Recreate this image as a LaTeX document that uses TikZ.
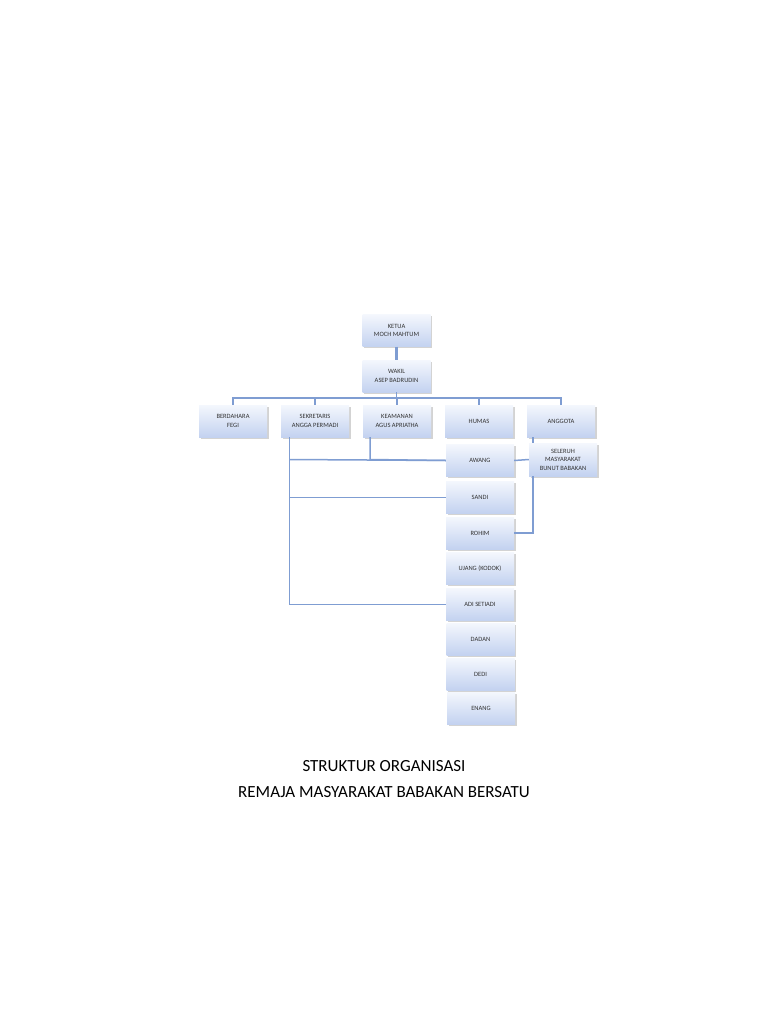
\documentclass[tikz,border=0pt]{standalone}
\usepackage{fontspec}
\setmainfont{Carlito}
\usetikzlibrary{shadows}
\definecolor{boxtop}{HTML}{F4F7FD}
\definecolor{boxbot}{HTML}{C3D2F0}
\definecolor{ln}{HTML}{7F9DD2}
\begin{document}
\begin{tikzpicture}[x=1pt,y=-1pt,
  box/.style={rectangle,minimum width=68pt,minimum height=32pt,inner sep=1pt,
    top color=boxtop,bottom color=boxbot,draw=none,
    drop shadow={shadow xshift=1.5pt,shadow yshift=-1.5pt,opacity=0.35},
    font=\fontsize{6.5}{8.5}\selectfont,align=center,text=black!80},
  conn/.style={draw=ln,line width=1.5pt}]
\useasboundingbox (0,0) rectangle (768,1024);
\node[box] (ketua) at (396.5,330.5) {KETUA\\MOCH MAHTUM};
\node[box] (wakil) at (396.5,376) {WAKIL\\ASEP BADRUDIN};
\node[box] (berd) at (233,421) {BERDAHARA\\FEGI};
\node[box] (sekr) at (315,421) {SEKRETARIS\\ANGGA PERMADI};
\node[box] (keam) at (397,421) {KEAMANAN\\AGUS APRIATHA};
\node[box] (humas) at (479,421) {HUMAS};
\node[box] (angg) at (561,421) {ANGGOTA};
\node[box] (awang) at (480,460.5) {AWANG};
\node[box] (sandi) at (480,497) {SANDI};
\node[box] (rohim) at (480,533) {ROHIM};
\node[box] (ujang) at (480,568.5) {UJANG (KODOK)};
\node[box] (adi) at (480,604.5) {ADI SETIADI};
\node[box] (dadan) at (480.5,639) {DADAN};
\node[box] (dedi) at (480.5,674) {DEDI};
\node[box] (enang) at (481,708) {ENANG};
\node[box,minimum width=68pt,minimum height=33pt] (sel) at (563,459.5) {SELERUH\\MASYARAKAT\\BUNUT BABAKAN};
\coordinate (bus) at (396.5,398);
\draw[conn,line width=2.5pt] (ketua.south) -- (wakil.north);
\draw[conn] (wakil.south) -- (bus);
\draw[conn] (233,405) -- (233,398) -- (561,398) -- (561,405);
\foreach \x in {315,397,479} \draw[conn] (\x,398) -- (\x,405);
\draw[conn,line width=1pt] (289,437) -- (289,604.5) -- (adi.west);
\draw[conn] (289,459.5) -- (awang.west);
\draw[conn,line width=1pt] (289,497) -- (sandi.west);
\draw[conn] (370,437) -- (370,459.5) -- (awang.west);
\draw[conn] (awang.east) -- (sel.west);
\draw[conn] (533,437) -- (533,443);
\draw[conn] (533,476) -- (533,533) -- (rohim.east);
\node[font=\fontsize{17}{20}\selectfont] (t1) at (384,766) {STRUKTUR ORGANISASI};
\node[font=\fontsize{17}{20}\selectfont] (t2) at (384,792) {REMAJA MASYARAKAT BABAKAN BERSATU};
\end{tikzpicture}
\end{document}
